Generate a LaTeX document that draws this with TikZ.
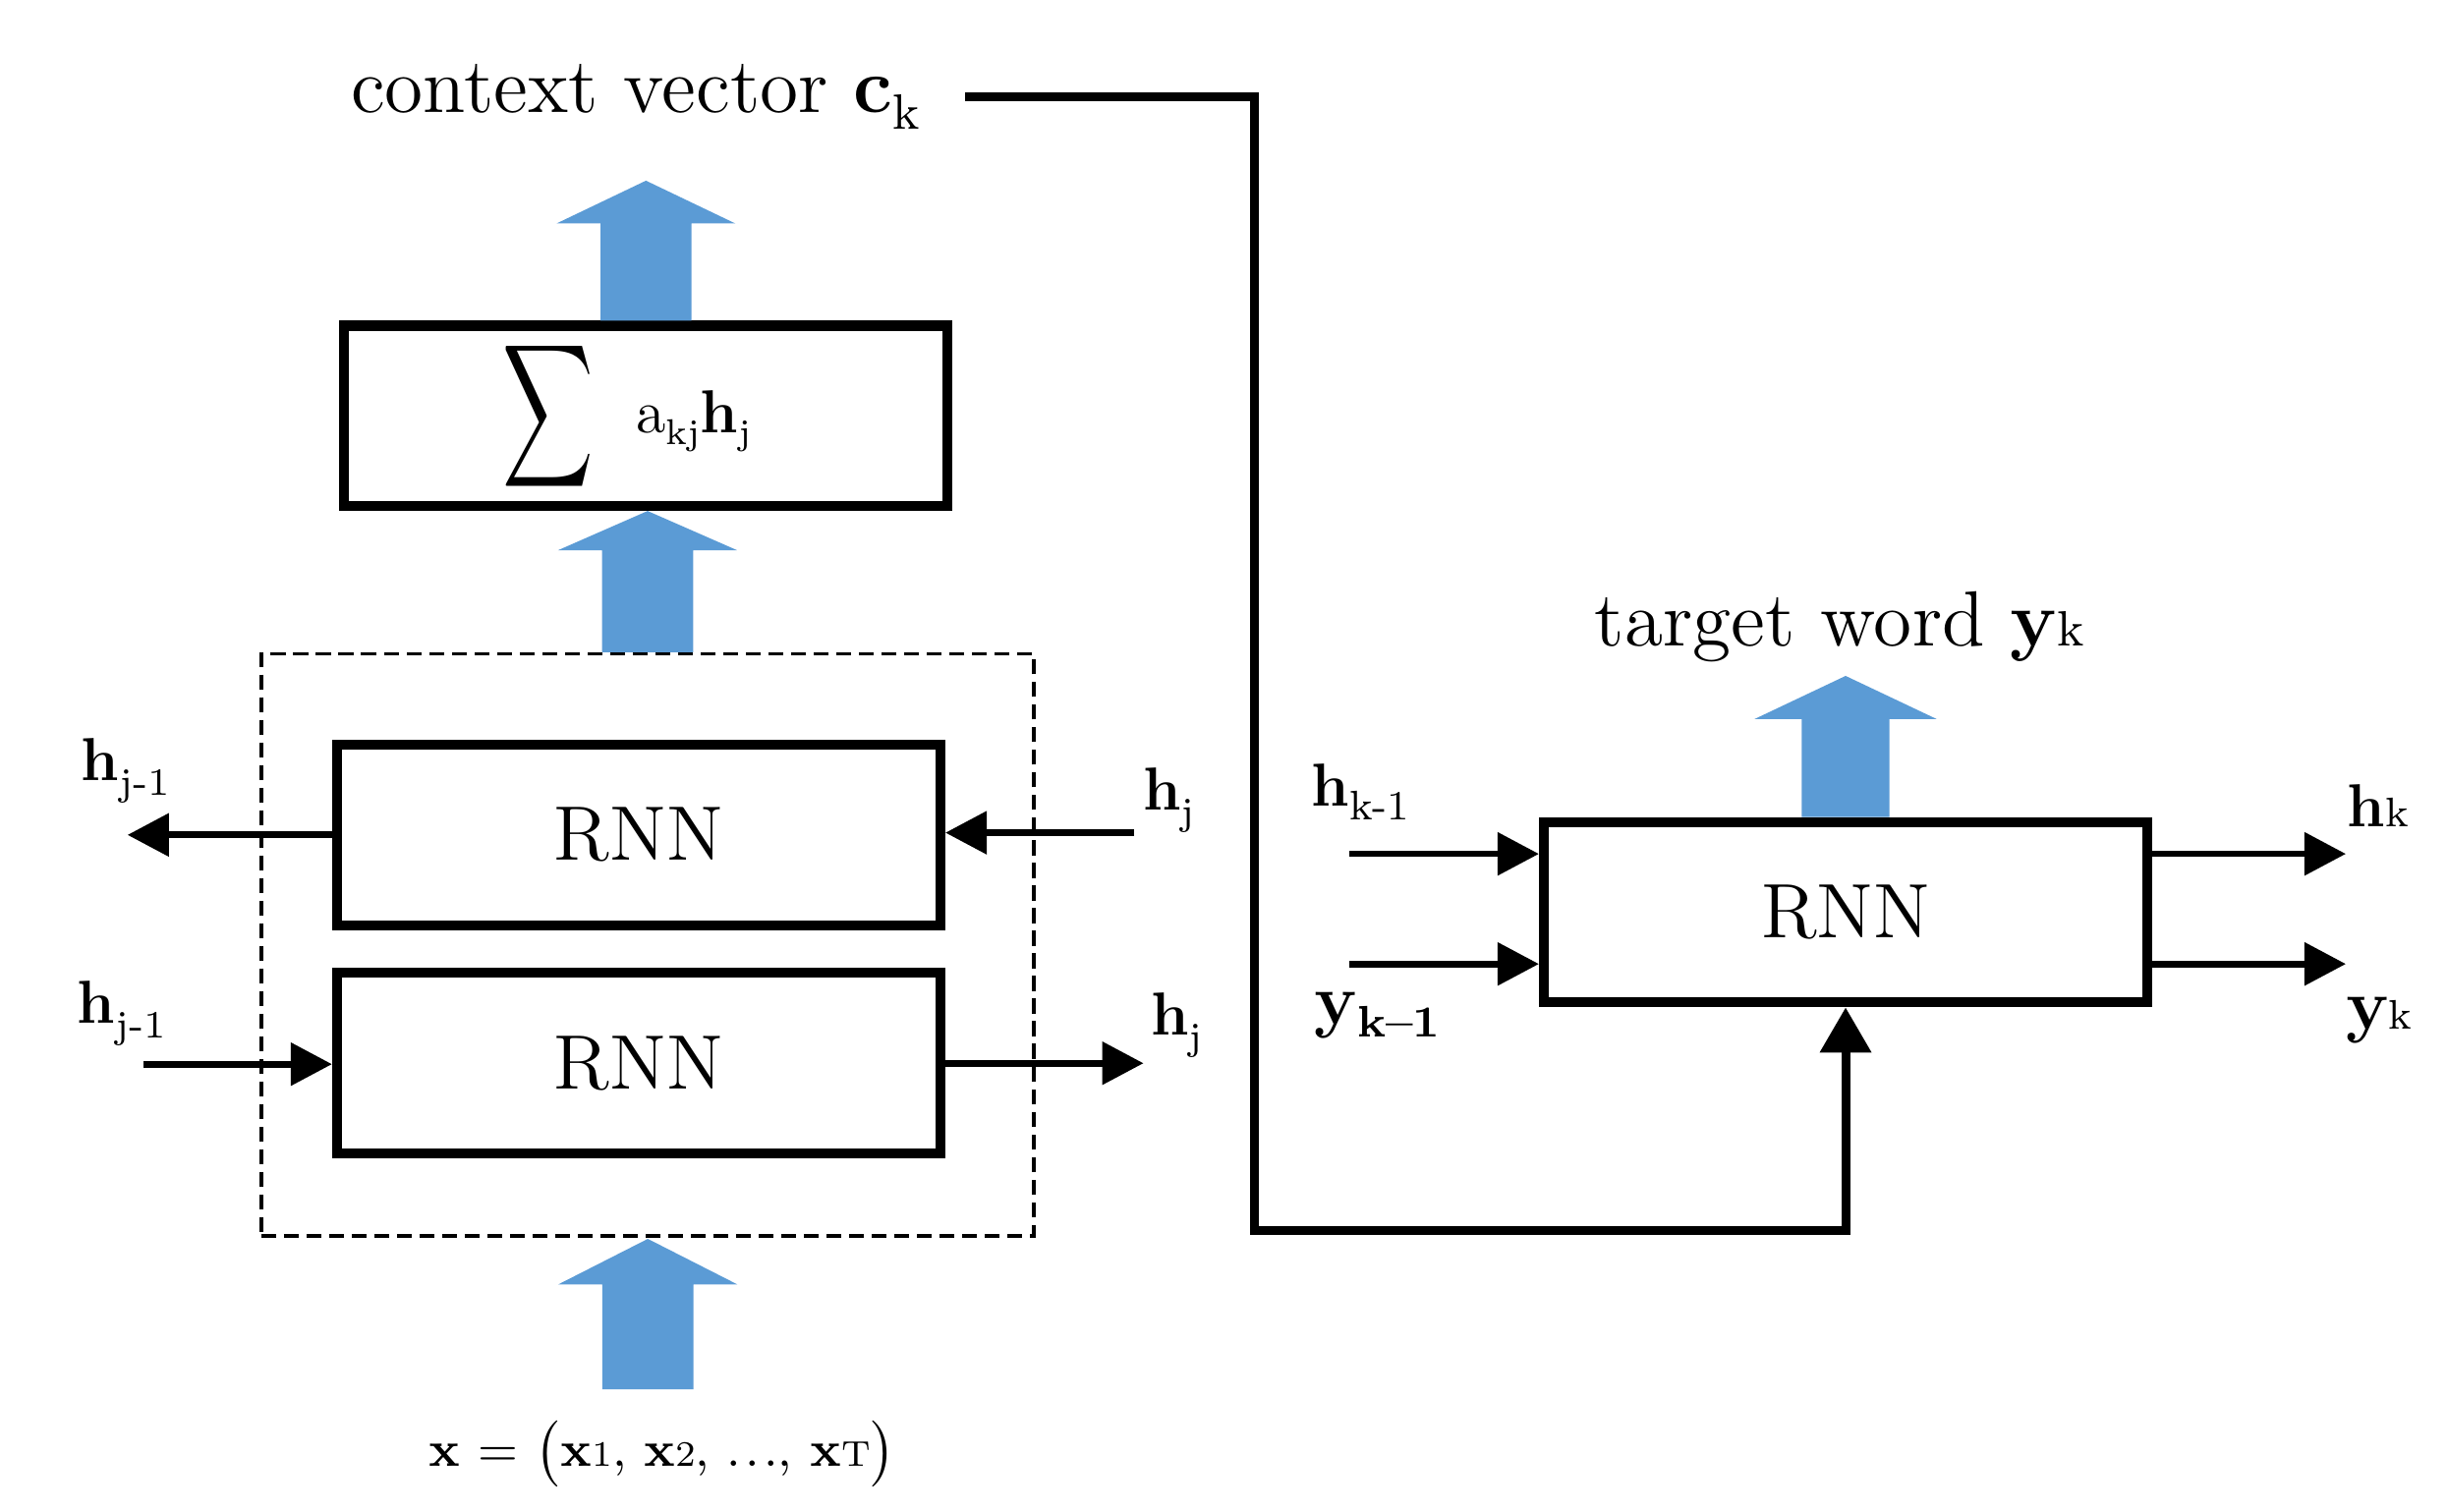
\documentclass[tikz,border=0pt]{standalone}
\usepackage{graphicx}
\usetikzlibrary{arrows.meta,calc}
\definecolor{arrowblue}{RGB}{91,155,213}
\newcommand\mysub[3]{\raisebox{-#1}{\fontsize{#2}{#2}\selectfont #3}}
\newcommand\hlab[2]{{\fontsize{11}{12}\selectfont\textbf{h}}#2}
\newcommand\ylab[2]{{\fontsize{13}{14}\selectfont\textbf{y}}#2}
\tikzset{
 box/.style={draw, line width=1.8pt, minimum width=3.845cm, minimum height=1.15cm, inner sep=0pt, font=\fontsize{14}{16}\selectfont},
 dashbox/.style={draw, line width=0.6pt, dash pattern=on 2.7pt off 1.4pt, minimum width=4.923cm, minimum height=3.71cm, inner sep=0pt},
 blockarrow/.style={fill=arrowblue},
 conn/.style={line width=1.2pt, -{Triangle[length=7.5pt,width=7.6pt]}},
 feedarrow/.style={line width=1.6pt, -{Triangle[length=8.2pt,width=9pt]}},
 biglabel/.style={inner sep=0pt, anchor=base west, font=\fontsize{14.2}{17}\selectfont},
 smalllabel/.style={inner sep=0pt, anchor=base west},
}
\begin{document}
\begin{tikzpicture}[x=0.01cm,y=-0.01cm]
\fill[white] (0,0) rectangle (1560,963.7);
\useasboundingbox (0,0) rectangle (1560,963.7);

% boxes
\node[box] (sum) at (411.8,265.2) {\raisebox{-0.12cm}{\resizebox*{0.58cm}{1.02cm}{$\displaystyle\sum$}}\hspace{0.27cm}{\fontsize{11}{13}\selectfont a\mysub{2pt}{6.5}{kj}\textbf{h}\mysub{2pt}{6.5}{j}}\kern0.24cm\null};
\node[dashbox] (enc) at (412.85,602.5) {};
\node[box] (rnnb) at (407.2,532.4) {RNN};
\node[box] (rnnf) at (407.2,678) {RNN};
\node[box] (dec) at (1176.6,581.7) {RNN};

% big labels
\node[biglabel] (ctx) at (223,72) {context vector \textbf{c}\mysub{3pt}{9}{k}};
\node[biglabel] (tgt) at (1016,412) {target word \textbf{y}\mysub{0pt}{9}{k}};
\node[inner sep=0pt, anchor=base west, font=\fontsize{9.1}{11}\selectfont] (xin) at (273,935) {\textbf{x} = $\bigl($\textbf{x}\mysub{0pt}{6.5}{1}, \textbf{x}\mysub{0pt}{6.5}{2}, .\hspace{0.08em}.\hspace{0.08em}., \textbf{x}\mysub{0pt}{6.5}{T}$\bigr)$};

% small labels
\node[smalllabel] (lhb) at (51.2,498) {\hlab{}{\mysub{2.6pt}{7}{j-1}}};
\node[smalllabel] (rhb) at (728,516.8) {\hlab{}{\mysub{2.6pt}{7}{j}}};
\node[smalllabel] (lhf) at (48.6,652.5) {\hlab{}{\mysub{2.6pt}{7}{j-1}}};
\node[smalllabel] (rhf) at (733,660) {\hlab{}{\mysub{2.6pt}{7}{j}}};
\node[smalllabel] (lhk) at (835.5,514) {\hlab{}{\mysub{2.5pt}{7.5}{k-1}}};
\node[smalllabel] (lyk) at (837.5,653) {\ylab{}{\mysub{2.4pt}{8}{\textbf{k--1}}}};
\node[smalllabel] (rhk) at (1496,527.3) {\hlab{}{\mysub{0pt}{7.5}{k}}};
\node[smalllabel] (ryk) at (1495,656) {\ylab{}{\mysub{0pt}{7.5}{k}}};

% connector end points
\coordinate (bl) at (81.3,533);
\coordinate (br) at (723,531);
\coordinate (fl) at (91.4,678.6);
\coordinate (fr) at (729,678);
\coordinate (hin) at (860,544.5);
\coordinate (yin) at (860,614.7);
\coordinate (hout) at (1495.5,544.5);
\coordinate (yout) at (1495.5,614.7);
\coordinate (turn) at (800,784.6);
\coordinate (xarr) at (413,886);

% thin connectors
\draw[conn] (rnnb.west) -- (rnnb.west -| bl);
\draw[conn] (br) -- (br -| rnnb.east);
\draw[conn] (fl) -- (fl -| rnnf.west);
\draw[conn] (rnnf.east) -- (rnnf.east -| fr);
\draw[conn] (hin) -- (hin -| dec.west);
\draw[conn] (yin) -- (yin -| dec.west);
\draw[conn] (hout -| dec.east) -- (hout);
\draw[conn] (yout -| dec.east) -- (yout);

% context feed
\draw[feedarrow] ([xshift=0.28cm]ctx.east) -| (turn) -| (dec.south);

% block arrows
\fill[blockarrow] (sum.north) ++(-29,0) -- ++(0,-62) -- ++(-28,0) -- ++(57,-27.3) -- ++(57,27.3) -- ++(-28,0) -- ++(0,62) -- cycle;
\fill[blockarrow] (enc.north) ++(-29,0) -- ++(0,-65) -- ++(-28,0) -- ++(57,-25) -- ++(57,25) -- ++(-28,0) -- ++(0,65) -- cycle;
\fill[blockarrow] (xarr) ++(-29,0) -- ++(0,-67) -- ++(-28,0) -- ++(57,-29) -- ++(57,29) -- ++(-28,0) -- ++(0,67) -- cycle;
\fill[blockarrow] (dec.north) ++(-28,0) -- ++(0,-62.5) -- ++(-30,0) -- ++(58,-27.5) -- ++(58,27.5) -- ++(-30,0) -- ++(0,62.5) -- cycle;
\end{tikzpicture}
\end{document}
